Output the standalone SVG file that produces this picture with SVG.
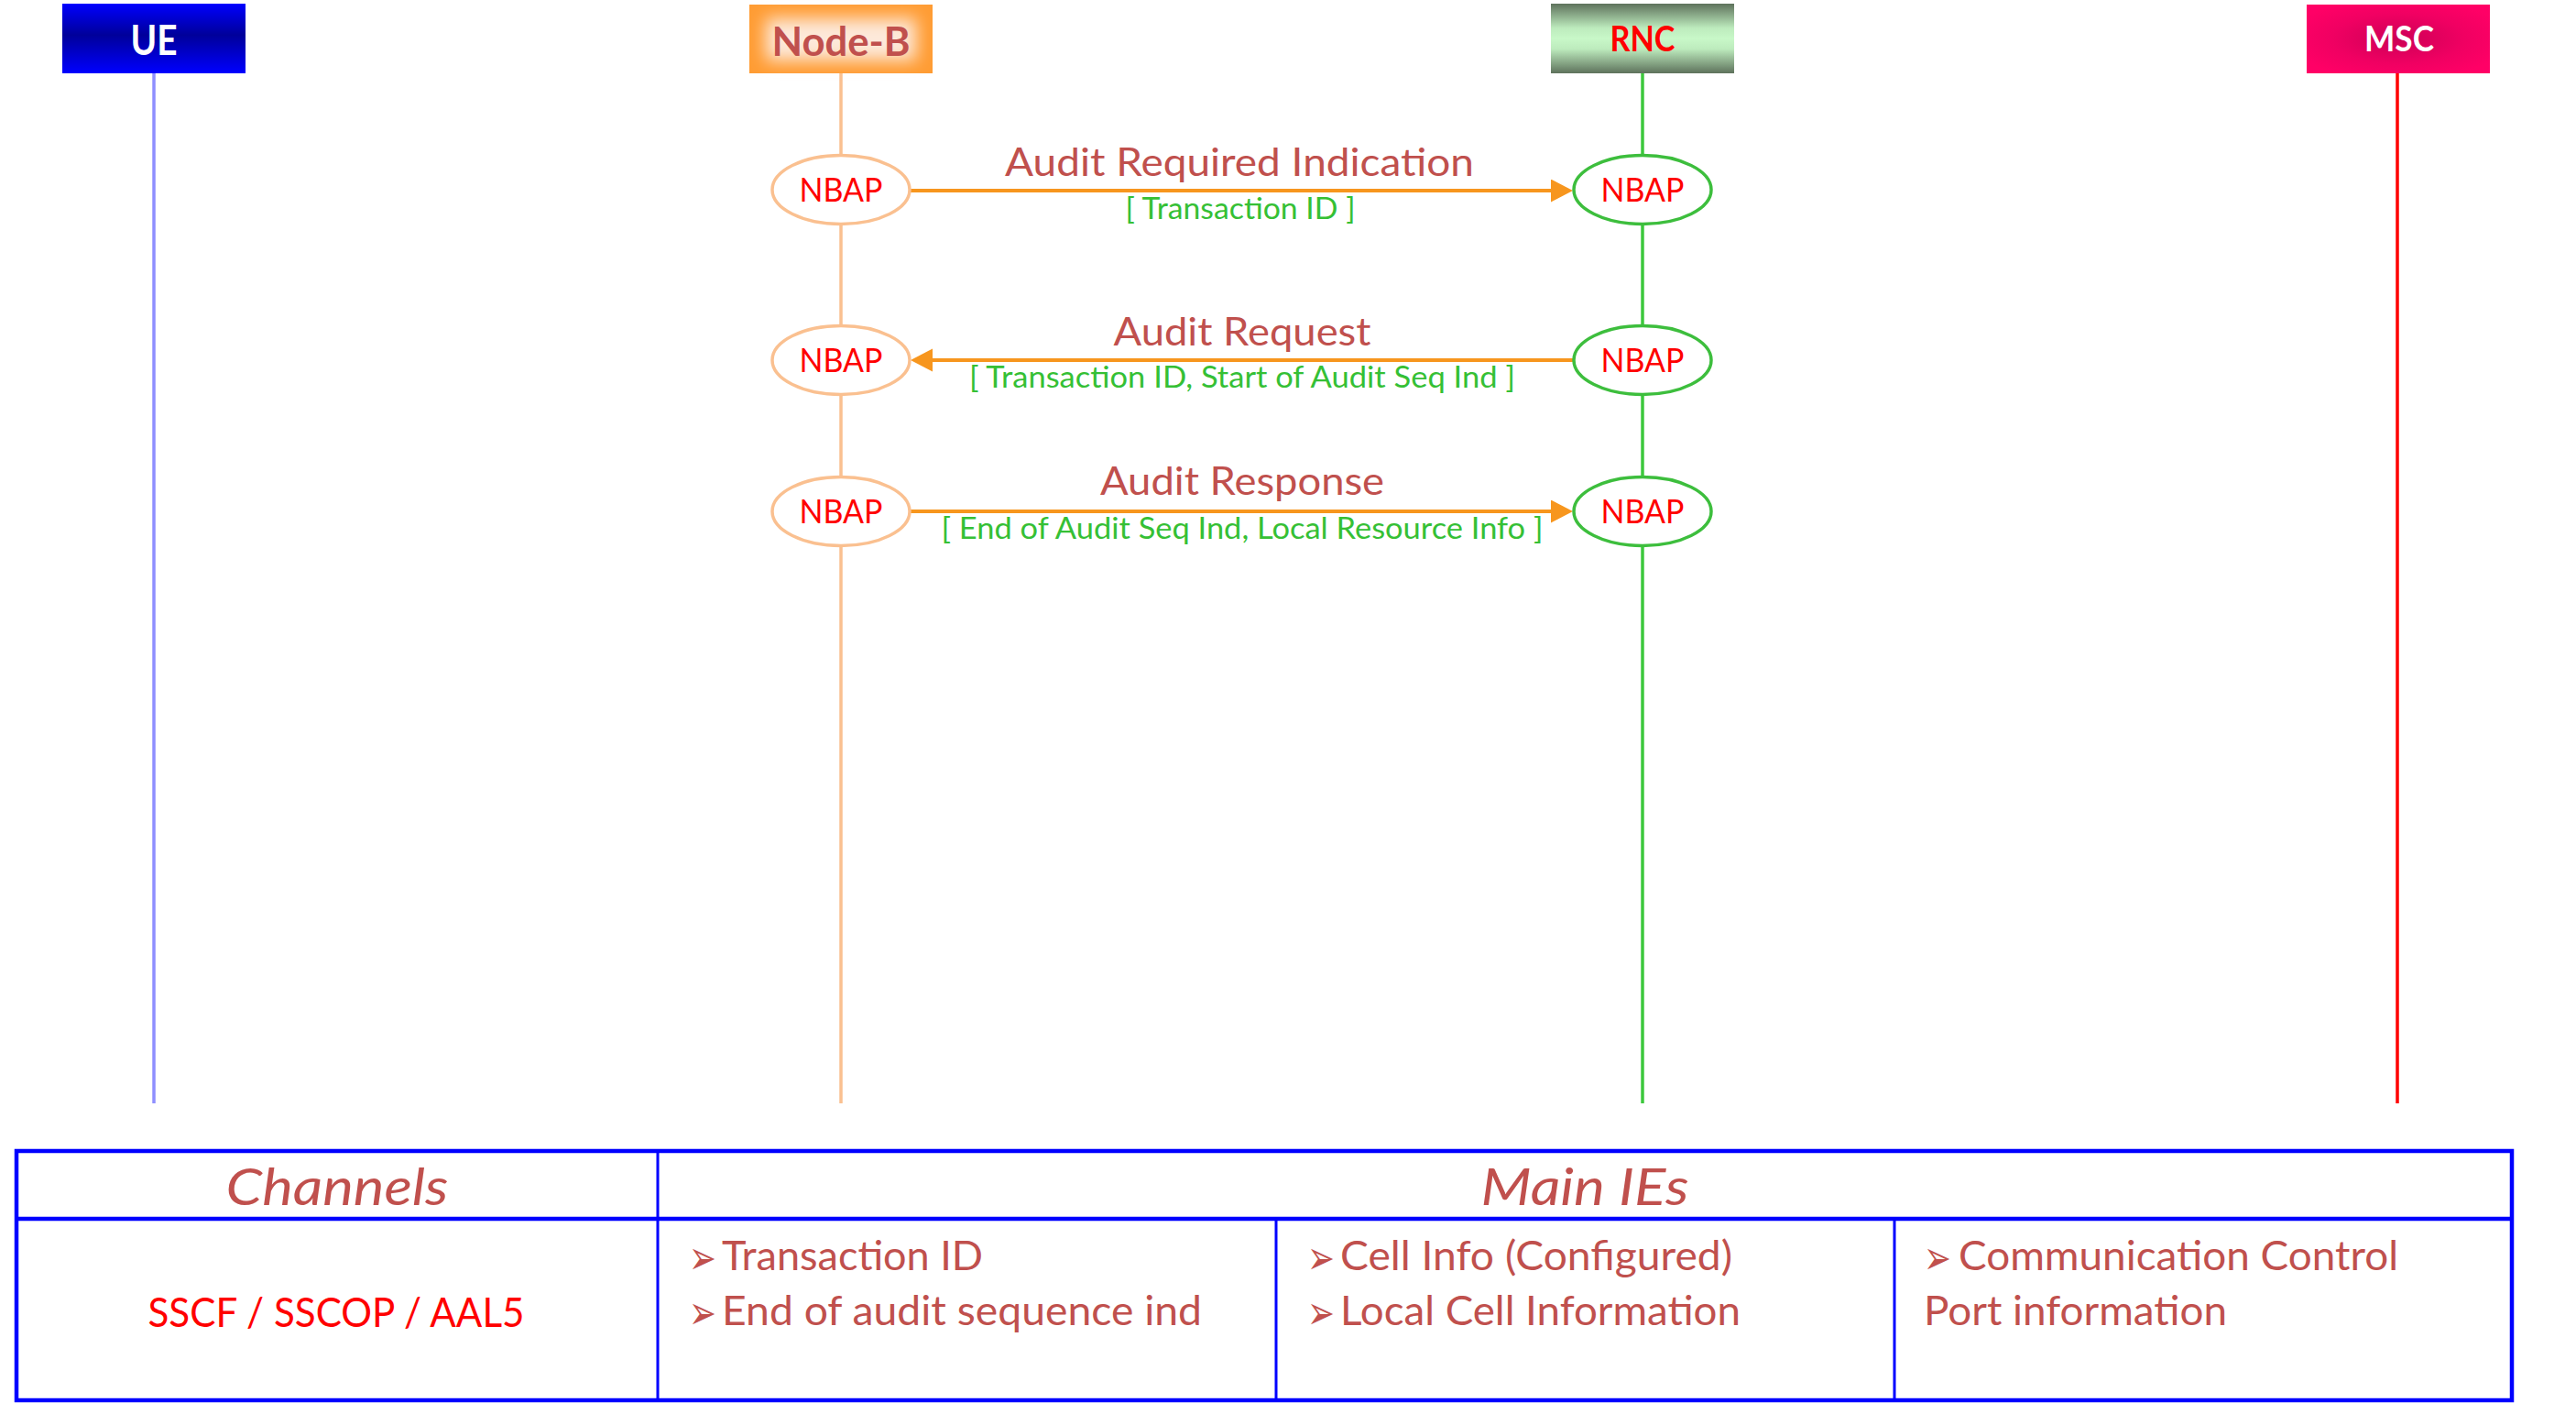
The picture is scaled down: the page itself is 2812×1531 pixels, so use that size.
<svg xmlns="http://www.w3.org/2000/svg" width="2812" height="1531" viewBox="0 0 2812 1531">
  <style>
    .box { font-family: Lato, "Open Sans", "Liberation Sans", sans-serif; font-weight: bold; text-anchor: middle; }
    .nbap { font-family: Lato, "Open Sans", "Liberation Sans", sans-serif; font-size: 36px; fill: #FF0000; text-anchor: middle; }
    .title { font-family: Lato, "Open Sans", "Liberation Sans", sans-serif; font-size: 43px; fill: #C0504D; text-anchor: middle; }
    .ie { font-family: Lato, "Open Sans", "Liberation Sans", sans-serif; font-size: 33px; fill: #35C035; text-anchor: middle; }
    .hdr { font-family: Lato, "Open Sans", "Liberation Sans", sans-serif; font-size: 57px; font-style: italic; fill: #C0504D; text-anchor: middle; }
    .cell { font-family: Lato, "Open Sans", "Liberation Sans", sans-serif; font-size: 44px; fill: #C0504D; }
    .bul { font-family: "DejaVu Sans", sans-serif; font-size: 51px; fill: #C0504D; }
    .nb-e { fill: #FFFFFF; stroke: #FAC090; stroke-width: 3.5; }
    .rnc-e { fill: #FFFFFF; stroke: #3DBE3D; stroke-width: 3.5; }
    .msg { stroke: #F7961E; stroke-width: 4; fill: none; marker-end: url(#arr); }
    .life { stroke-width: 3.5; fill: none; }
    .tb { stroke: #0000FF; fill: none; }
  </style>
  <defs>
    <marker id="arr" markerUnits="userSpaceOnUse" markerWidth="26" markerHeight="26" refX="2" refY="12.5" orient="auto">
      <path d="M0,0 L24,12.5 L0,25 z" fill="#F7961E"/>
    </marker>
    <linearGradient id="gUE" x1="0" y1="0" x2="0" y2="1">
      <stop offset="0" stop-color="#0000FF"/>
      <stop offset="0.45" stop-color="#00009A"/>
      <stop offset="1" stop-color="#0000FF"/>
    </linearGradient>
    <linearGradient id="gRNC" x1="0" y1="0" x2="0" y2="1">
      <stop offset="0" stop-color="#5E725C"/>
      <stop offset="0.35" stop-color="#BDEBBD"/>
      <stop offset="0.5" stop-color="#C8F8C8"/>
      <stop offset="0.65" stop-color="#BDEBBD"/>
      <stop offset="1" stop-color="#5E725C"/>
    </linearGradient>
    <radialGradient id="gMSC" cx="0.5" cy="0.5" r="0.6">
      <stop offset="0" stop-color="#CC0056"/>
      <stop offset="0.6" stop-color="#F00062"/>
      <stop offset="1" stop-color="#FF0066"/>
    </radialGradient>
    <filter id="glow" x="-0.2" y="-0.5" width="1.4" height="2">
      <feGaussianBlur stdDeviation="9"/>
    </filter>
  </defs>

  <!-- lifelines -->
  <g id="lifelines">
    <line class="life" x1="168" y1="80" x2="168" y2="1204" stroke="#8F8FFF"/>
    <line class="life" x1="918" y1="80" x2="918" y2="1204" stroke="#FAC090"/>
    <line class="life" x1="1793" y1="80" x2="1793" y2="1204" stroke="#3CC83C"/>
    <line class="life" x1="2617" y1="80" x2="2617" y2="1204" stroke="#FF0000"/>
  </g>

  <!-- entity boxes -->
  <g id="UE">
    <rect x="68" y="4" width="200" height="76" fill="url(#gUE)"/>
    <text class="box" x="168" y="60" font-size="45" fill="#FFFFFF" textLength="51" lengthAdjust="spacingAndGlyphs">UE</text>
  </g>
  <g id="Node-B">
    <rect x="818" y="5" width="200" height="75" fill="#FF9C33"/>
    <rect x="836" y="20" width="164" height="46" fill="#FDE9DA" filter="url(#glow)"/>
    <text class="box" x="918" y="61" font-size="43" fill="#C0504D" textLength="151" lengthAdjust="spacingAndGlyphs">Node-B</text>
  </g>
  <g id="RNC">
    <rect x="1693" y="4" width="200" height="76" fill="url(#gRNC)"/>
    <text class="box" x="1793" y="56" font-size="38" fill="#FF0000" textLength="71" lengthAdjust="spacingAndGlyphs">RNC</text>
  </g>
  <g id="MSC">
    <rect x="2518" y="5" width="200" height="75" fill="url(#gMSC)"/>
    <text class="box" x="2619" y="56" font-size="38" fill="#FFFFFF" textLength="76" lengthAdjust="spacingAndGlyphs">MSC</text>
  </g>

  <!-- connectors -->
  <g id="connectors">
    <line class="msg" x1="994" y1="208" x2="1695" y2="208"/>
    <line class="msg" x1="1717" y1="393" x2="1016" y2="393"/>
    <line class="msg" x1="994" y1="558" x2="1695" y2="558"/>
  </g>

  <!-- NBAP endpoints -->
  <g id="nbap-nodeb-1"><ellipse class="nb-e" cx="918" cy="207" rx="75" ry="37.5"/><text class="nbap" x="918" y="220" textLength="91" lengthAdjust="spacingAndGlyphs">NBAP</text></g>
  <g id="nbap-rnc-1"><ellipse class="rnc-e" cx="1793" cy="207" rx="75" ry="37.5"/><text class="nbap" x="1793" y="220" textLength="91" lengthAdjust="spacingAndGlyphs">NBAP</text></g>
  <g id="nbap-nodeb-2"><ellipse class="nb-e" cx="918" cy="393" rx="75" ry="37.5"/><text class="nbap" x="918" y="406" textLength="91" lengthAdjust="spacingAndGlyphs">NBAP</text></g>
  <g id="nbap-rnc-2"><ellipse class="rnc-e" cx="1793" cy="393" rx="75" ry="37.5"/><text class="nbap" x="1793" y="406" textLength="91" lengthAdjust="spacingAndGlyphs">NBAP</text></g>
  <g id="nbap-nodeb-3"><ellipse class="nb-e" cx="918" cy="558" rx="75" ry="37.5"/><text class="nbap" x="918" y="571" textLength="91" lengthAdjust="spacingAndGlyphs">NBAP</text></g>
  <g id="nbap-rnc-3"><ellipse class="rnc-e" cx="1793" cy="558" rx="75" ry="37.5"/><text class="nbap" x="1793" y="571" textLength="91" lengthAdjust="spacingAndGlyphs">NBAP</text></g>

  <!-- message labels -->
  <g id="labels">
    <text class="title" x="1353" y="192" textLength="512" lengthAdjust="spacingAndGlyphs">Audit Required Indication</text>
    <text class="ie" x="1354" y="239" textLength="251" lengthAdjust="spacingAndGlyphs">[ Transaction ID ]</text>
    <text class="title" x="1356" y="377" textLength="281" lengthAdjust="spacingAndGlyphs">Audit Request</text>
    <text class="ie" x="1356" y="423" textLength="596" lengthAdjust="spacingAndGlyphs">[ Transaction ID, Start of Audit Seq Ind ]</text>
    <text class="title" x="1356" y="540" textLength="310" lengthAdjust="spacingAndGlyphs">Audit Response</text>
    <text class="ie" x="1356" y="588" textLength="657" lengthAdjust="spacingAndGlyphs">[ End of Audit Seq Ind, Local Resource Info ]</text>
  </g>

  <!-- table -->
  <g id="table">
    <rect class="tb" x="18" y="1256" width="2724" height="272" stroke-width="4.5"/>
    <line class="tb" x1="18" y1="1330" x2="2742" y2="1330" stroke-width="4.5"/>
    <line class="tb" x1="718" y1="1256" x2="718" y2="1528" stroke-width="3"/>
    <line class="tb" x1="1393" y1="1330" x2="1393" y2="1528" stroke-width="3"/>
    <line class="tb" x1="2068" y1="1330" x2="2068" y2="1528" stroke-width="3"/>

    <text class="hdr" x="368" y="1315" textLength="243" lengthAdjust="spacingAndGlyphs">Channels</text>
    <text class="hdr" x="1730" y="1315" textLength="227" lengthAdjust="spacingAndGlyphs">Main IEs</text>

    <text class="cell" x="367" y="1448" style="fill:#FF0000" text-anchor="middle" textLength="411" lengthAdjust="spacingAndGlyphs">SSCF / SSCOP / AAL5</text>

    <text class="bul" transform="translate(752,1390) scale(0.7,1)">➢</text>
    <text class="cell" x="788" y="1386" textLength="285" lengthAdjust="spacingAndGlyphs">Transaction ID</text>
    <text class="bul" transform="translate(752,1450) scale(0.7,1)">➢</text>
    <text class="cell" x="788" y="1446" textLength="524" lengthAdjust="spacingAndGlyphs">End of audit sequence ind</text>

    <text class="bul" transform="translate(1427,1390) scale(0.7,1)">➢</text>
    <text class="cell" x="1463" y="1386" textLength="428" lengthAdjust="spacingAndGlyphs">Cell Info (Configured)</text>
    <text class="bul" transform="translate(1427,1450) scale(0.7,1)">➢</text>
    <text class="cell" x="1463" y="1446" textLength="437" lengthAdjust="spacingAndGlyphs">Local Cell Information</text>

    <text class="bul" transform="translate(2100,1390) scale(0.7,1)">➢</text>
    <text class="cell" x="2138" y="1386" textLength="480" lengthAdjust="spacingAndGlyphs">Communication Control</text>
    <text class="cell" x="2100" y="1446" textLength="331" lengthAdjust="spacingAndGlyphs">Port information</text>
  </g>
</svg>
